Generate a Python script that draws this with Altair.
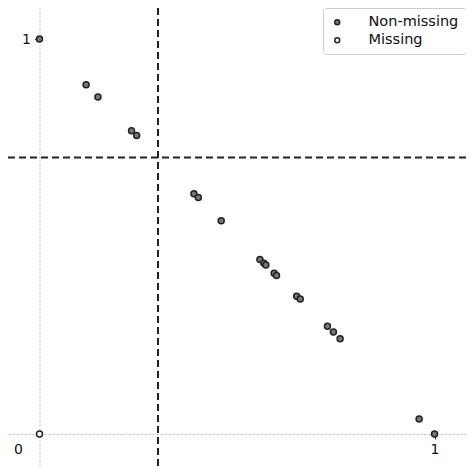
import altair as alt
import pandas as pd

# Non-missing points (x, y)
nm_x = [0.0, 0.118, 0.148, 0.233, 0.246, 0.391, 0.402, 0.460, 0.558, 0.568, 0.573,
        0.594, 0.600, 0.651, 0.660, 0.729, 0.744, 0.761, 0.961, 1.0]
nm_y = [1.0, 0.884, 0.853, 0.768, 0.756, 0.608, 0.599, 0.540, 0.442, 0.432, 0.428,
        0.407, 0.401, 0.349, 0.342, 0.273, 0.258, 0.241, 0.038, 0.0]
# Missing points
m_x = [0.0]
m_y = [0.0]
# threshold lines
vline = [0.3]
hline = [0.7]
status_order = ["Non-missing", "Missing"]

df = pd.DataFrame({
    "x": nm_x + m_x,
    "y": nm_y + m_y,
    "status": ["Non-missing"] * len(nm_x) + ["Missing"] * len(m_x),
})

xdom = [-0.0797, 1.0797]
ydom = [-0.081, 1.0785]

xs = alt.Scale(domain=xdom, nice=False, zero=False)
ys = alt.Scale(domain=ydom, nice=False, zero=False)

axis_common = dict(
    domainColor="#bbbbbb", domainDash=[2, 2], domainWidth=1,
    tickColor="#333333", tickSize=5, tickWidth=1,
    labelFont="DejaVu Sans", labelFontSize=14, labelColor="#111111",
    grid=False, title=None, format="d",
)

points = alt.Chart(df).mark_point(
    filled=True, shape="circle", size=36, stroke="#222222", strokeWidth=1.5, opacity=1
).encode(
    x=alt.X("x:Q", scale=xs, axis=alt.Axis(values=[1], offset=-32, labelPadding=3, **axis_common)),
    y=alt.Y("y:Q", scale=ys, axis=alt.Axis(values=[1], offset=-31.5, labelPadding=4, **axis_common)),
    fill=alt.Fill("status:N", scale=alt.Scale(domain=status_order, range=["#777777", "#ffffff"]),
                  legend=alt.Legend(title=None, orient="top-right", offset=0,
                                    labelFont="DejaVu Sans", labelFontSize=14.5, labelColor="#111111",
                                    symbolSize=24, symbolStrokeColor="#222222", symbolStrokeWidth=1.5,
                                    strokeColor="#cccccc", fillColor="white", cornerRadius=3,
                                    padding=7, rowPadding=3, labelOffset=24)),
)

vdf = pd.DataFrame({"v": vline})
hdf = pd.DataFrame({"h": hline})
vrule = alt.Chart(vdf).mark_rule(color="#222222", strokeWidth=2, strokeDash=[7, 4]).encode(
    x=alt.X("v:Q", scale=xs))
hrule = alt.Chart(hdf).mark_rule(color="#222222", strokeWidth=2, strokeDash=[7, 4]).encode(
    y=alt.Y("h:Q", scale=ys))

origin = alt.Chart(pd.DataFrame({"x": [0.0], "y": [0.0], "t": ["0"]})).mark_text(
    font="DejaVu Sans", fontSize=14, color="#111111", dx=-21, dy=16, align="center", baseline="middle"
).encode(x=alt.X("x:Q", scale=xs), y=alt.Y("y:Q", scale=ys), text="t:N")

chart = alt.layer(vrule, hrule, points, origin).properties(
    width=458, height=458, padding=0, autosize=alt.AutoSizeParams(type="none")
).configure_view(stroke=None)

chart.save("out.html", embed_options={"renderer": "svg", "actions": False})
